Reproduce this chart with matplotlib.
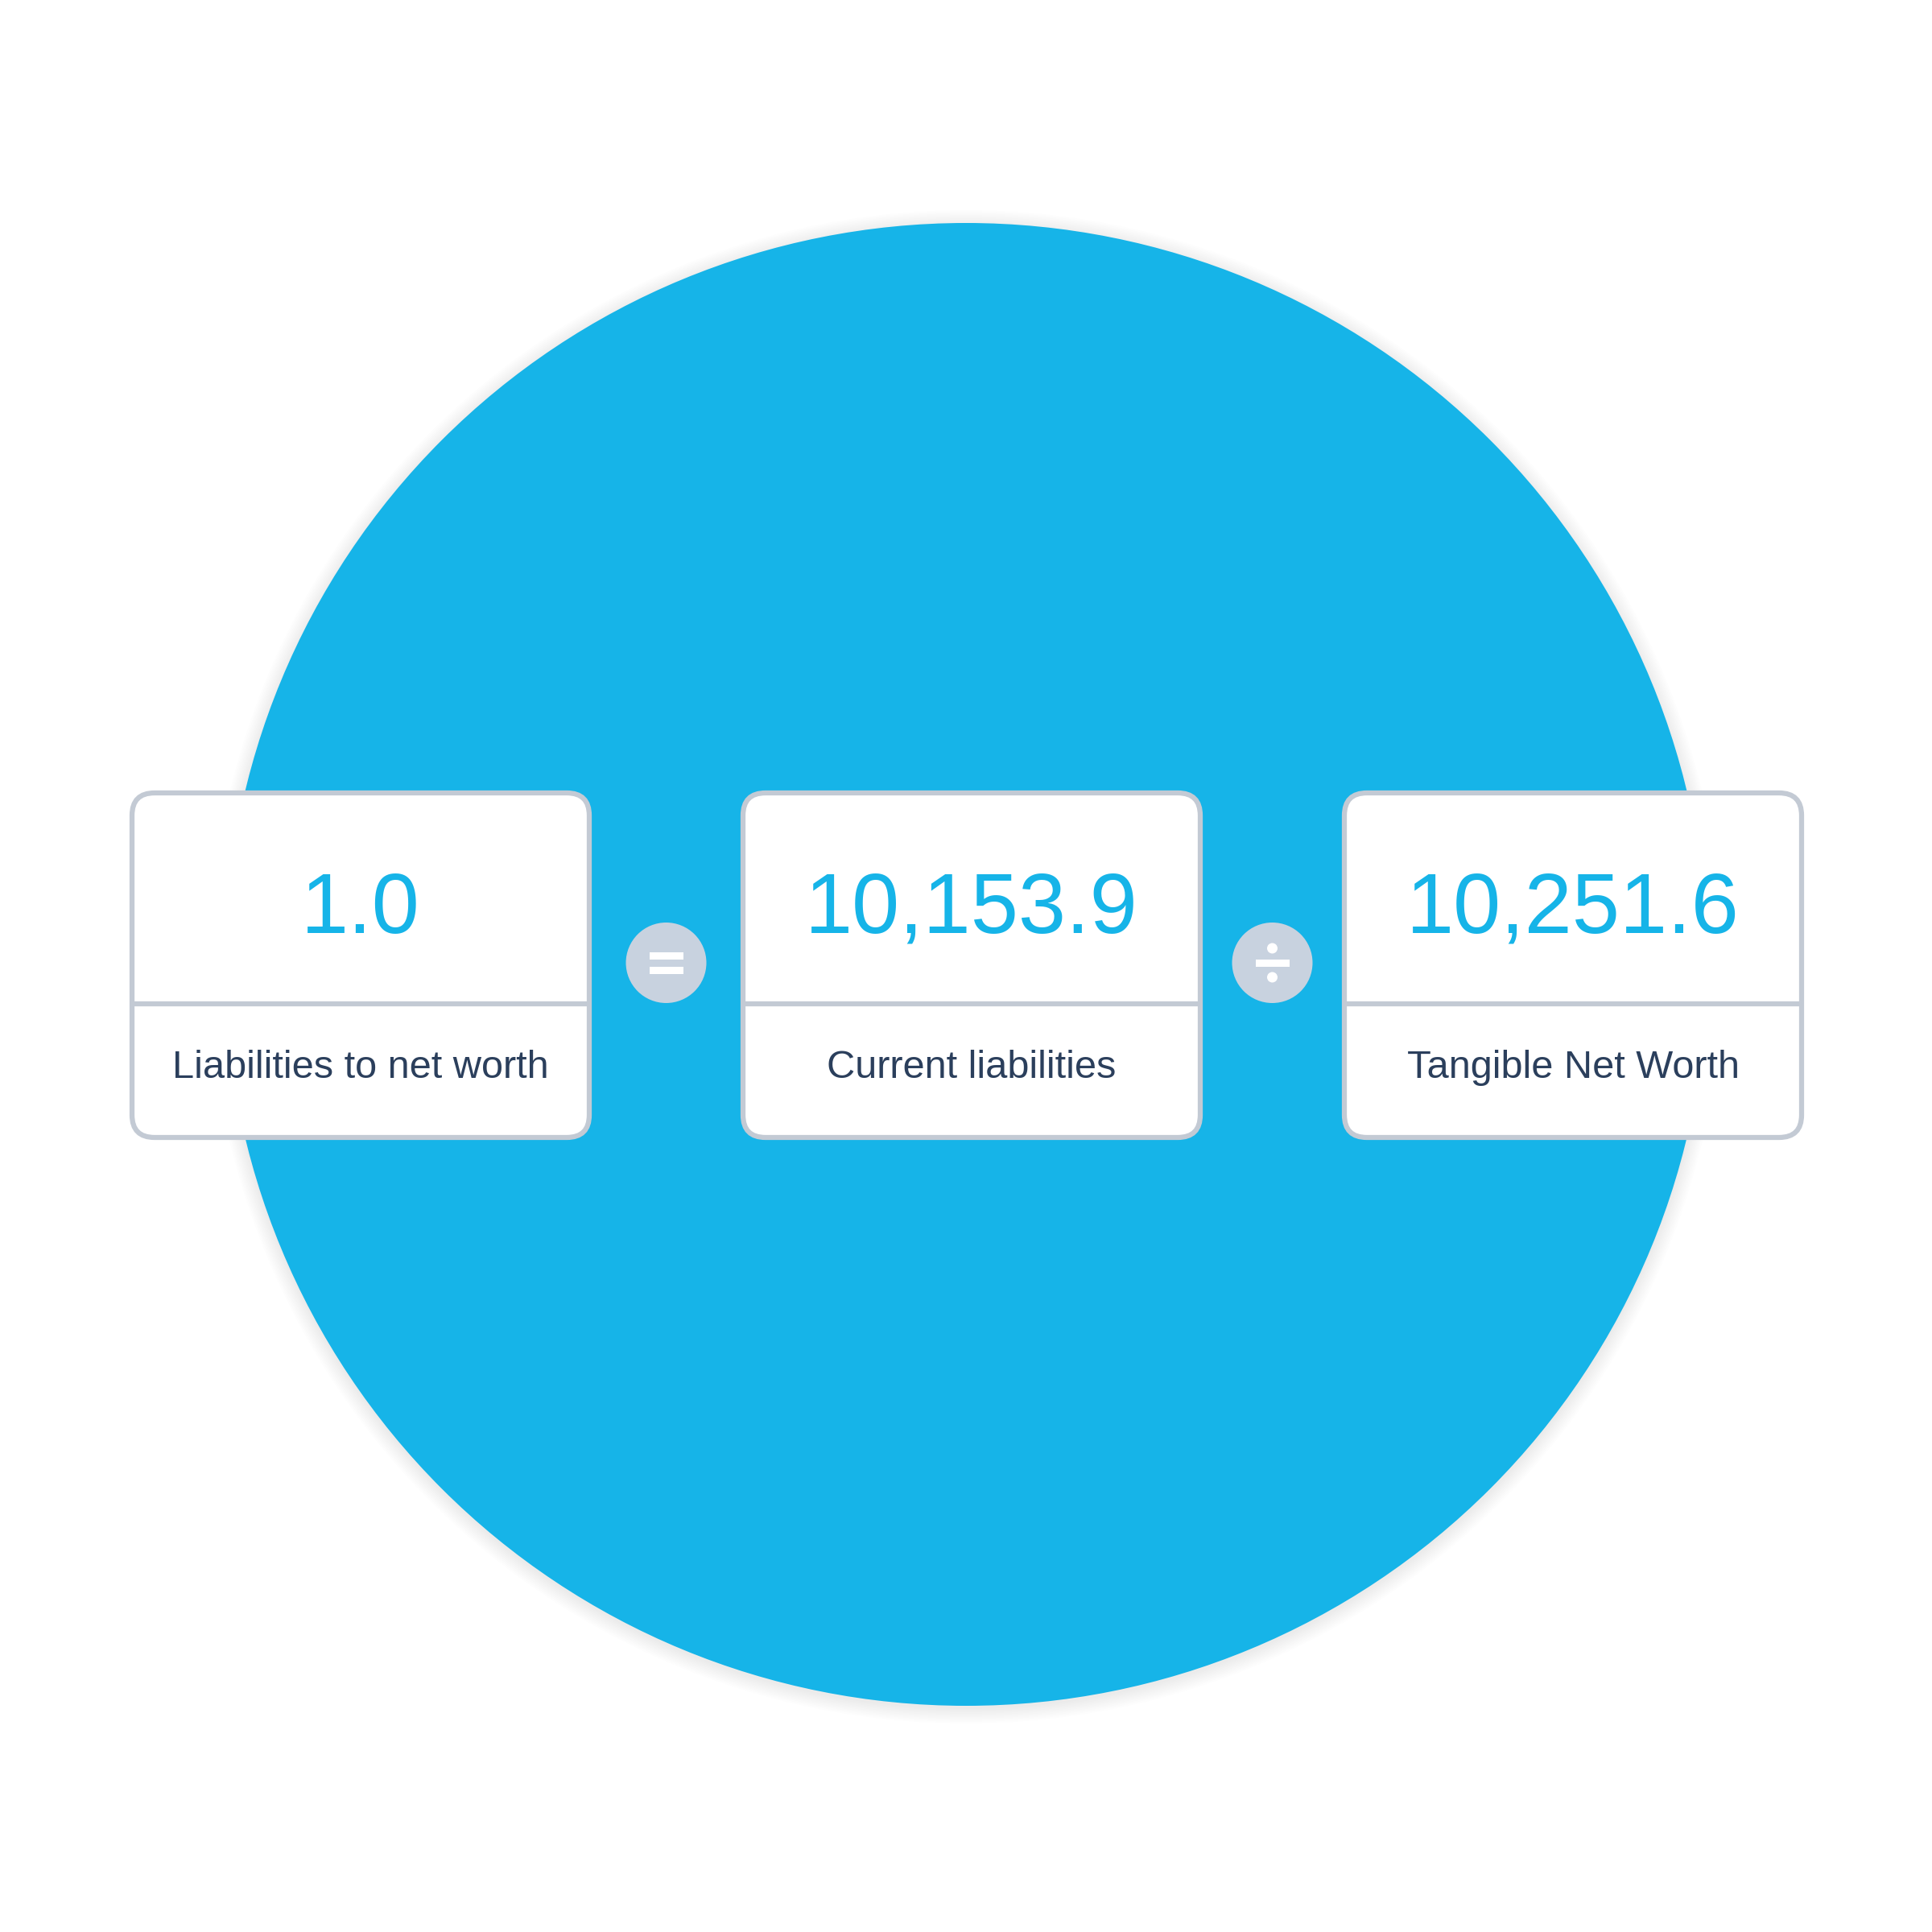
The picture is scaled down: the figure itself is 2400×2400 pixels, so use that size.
import matplotlib
matplotlib.use("Agg")
import matplotlib.pyplot as plt
from matplotlib.patches import Circle, FancyBboxPatch, Rectangle

# ---- data ----
values = [1.0, 10153.9, 10251.6]
labels = ["Liabilities to net worth", "Current liabilities", "Tangible Net Worth"]
operators = ["=", "÷"]

# ---- style ----
BLUE = "#16B4E8"
CARD_EDGE = "#C3CAD4"
OP_FILL = "#C8D2DF"
LABEL_COLOR = "#2B3F5C"
plt.rcParams['font.family'] = ['Liberation Sans', 'DejaVu Sans']

fig = plt.figure(figsize=(8, 8), dpi=300)
ax = fig.add_axes([0, 0, 1, 1])
ax.set_xlim(0, 2400)
ax.set_ylim(2400, 0)
ax.set_aspect('equal')
ax.axis('off')

# big circle with soft shadow
cx, cy, R = 1200, 1198, 921
for i in range(10):
    ax.add_patch(Circle((cx, cy + 3), R + 1 + i * 2.0, facecolor='#000000',
                        edgecolor='none', alpha=0.006, zorder=1))
ax.add_patch(Circle((cx, cy), R, facecolor=BLUE, edgecolor='none', zorder=2))

# cards
card_w, card_h = 568, 428
card_top = 985
divider_y = 1247
centers = [448, 1207, 1954]

def fmt(v):
    return f"{v:,.1f}"

for xc, v, lab in zip(centers, values, labels):
    x0 = xc - card_w / 2
    ax.add_patch(FancyBboxPatch((x0, card_top), card_w, card_h,
                                boxstyle="round,pad=0,rounding_size=28",
                                facecolor='white', edgecolor=CARD_EDGE,
                                linewidth=1.5, zorder=3))
    ax.plot([x0 + 2, x0 + card_w - 2], [divider_y, divider_y], color=CARD_EDGE,
            linewidth=1.5, solid_capstyle='butt', zorder=4)
    ax.text(xc, 1159, fmt(v), color=BLUE, fontsize=25.5, ha='center',
            va='baseline', zorder=5)
    ax.text(xc, 1339, lab, color=LABEL_COLOR, fontsize=11.7, ha='center',
            va='baseline', zorder=5)

# operator circles between cards
op_x = [(centers[i] + card_w / 2 + centers[i + 1] - card_w / 2) / 2
        for i in range(len(centers) - 1)]
op_y = 1196
for ox, op in zip(op_x, operators):
    ax.add_patch(Circle((ox, op_y), 50, facecolor=OP_FILL, edgecolor='none', zorder=3))
    if op == "=":
        for dy in (-9, 9):
            ax.add_patch(Rectangle((ox - 21, op_y + dy - 4.5), 42, 9,
                                   facecolor='white', edgecolor='none', zorder=4))
    else:
        ax.add_patch(Rectangle((ox - 21, op_y - 4.5), 42, 9,
                               facecolor='white', edgecolor='none', zorder=4))
        for dy in (-18, 18):
            ax.add_patch(Circle((ox, op_y + dy), 6.5, facecolor='white',
                                edgecolor='none', zorder=4))

fig.savefig("out.png", dpi=300, facecolor='white')
